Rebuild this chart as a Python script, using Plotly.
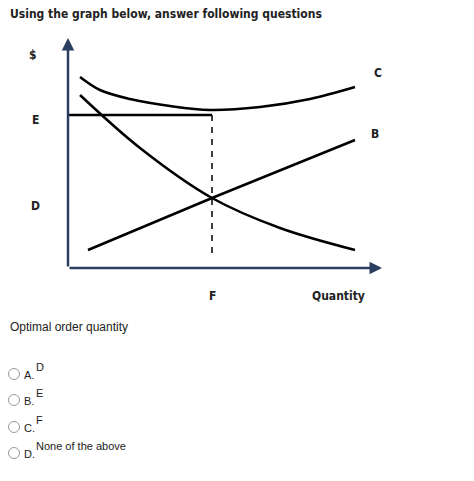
import plotly.graph_objects as go

# curve data (pixel-space coordinates of the diagram)
c_x = [80, 100, 130, 170, 210, 260, 310, 355]
c_y = [77, 90, 99, 106, 110, 107, 99, 87]
dec_x = [80, 140, 212, 280, 355]
dec_y = [95, 148, 198, 228, 250]
inc_x = [88, 212, 355]
inc_y = [250, 198, 140]
e_x = [68, 212]
e_y = [115, 115]
f_x = [212, 212]
f_y = [115, 255]

axis_labels = [("$", 33, 55), ("E", 35, 120), ("D", 35, 206), ("C", 378, 73),
               ("B", 375, 134), ("F", 212, 296), ("Quantity", 338, 296)]
options = [("A.", "D"), ("B.", "E"), ("C.", "F"), ("D.", "None of the above")]
option_y = [374, 400, 427, 453]

fig = go.Figure()
for xs, ys in [(c_x, c_y), (dec_x, dec_y), (inc_x, inc_y), (e_x, e_y)]:
    fig.add_trace(go.Scatter(x=xs, y=ys, mode="lines", line=dict(color="black", width=2.5, shape="spline")))
fig.add_trace(go.Scatter(x=f_x, y=f_y, mode="lines", line=dict(color="black", width=1.5, dash="6px,6px")))
fig.add_trace(go.Scatter(x=[14] * 4, y=option_y, mode="markers",
                         marker=dict(symbol="circle-open", size=11, color="#999", line=dict(width=1))))

ann = []
ann.append(dict(x=68, y=38, ax=68, ay=268, xref="x", yref="y", axref="x", ayref="y",
                showarrow=True, arrowhead=2, arrowsize=1, arrowwidth=2.5, text=""))
ann.append(dict(x=382, y=268, ax=68, ay=268, xref="x", yref="y", axref="x", ayref="y",
                showarrow=True, arrowhead=2, arrowsize=1, arrowwidth=2.5, text=""))
tfont = dict(family="DejaVu Sans Condensed", size=12, color="#222")
ann.append(dict(x=8, y=14, xref="x", yref="y", text="<b>Using the graph below, answer following questions</b>",
                showarrow=False, xanchor="left", font=tfont))
for t, x, y in axis_labels:
    ann.append(dict(x=x, y=y, xref="x", yref="y", text=f"<b>{t}</b>", showarrow=False, font=tfont))
ofont = dict(family="Liberation Sans", size=12, color="#222")
ann.append(dict(x=8, y=327, xref="x", yref="y", text="Optimal order quantity", showarrow=False,
                xanchor="left", font=ofont))
for (a, b), y in zip(options, option_y):
    ann.append(dict(x=22, y=y + 1, xref="x", yref="y", text=a, showarrow=False, xanchor="left",
                    font=dict(family="Liberation Sans", size=11, color="#222")))
    ann.append(dict(x=34, y=y - 7, xref="x", yref="y", text=b, showarrow=False, xanchor="left",
                    font=dict(family="Liberation Sans", size=11, color="#222")))

fig.update_layout(width=474, height=481, margin=dict(l=0, r=0, t=0, b=0), showlegend=False,
                  plot_bgcolor="white", paper_bgcolor="white", annotations=ann,
                  xaxis=dict(range=[8, 482], visible=False, fixedrange=True),
                  yaxis=dict(range=[489, 8], visible=False, fixedrange=True))
fig.write_html("out.html")
